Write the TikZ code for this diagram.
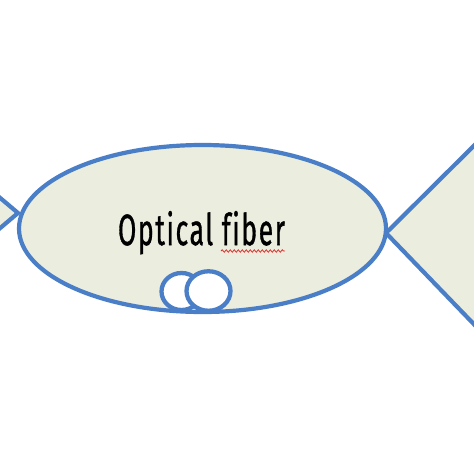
\documentclass[tikz,border=0pt]{standalone}
\usepackage{fontspec}
\setmainfont{Fira Sans}
\newfontfamily\fishlabelfont[FakeBold=1.2,LetterSpace=6,Ligatures=NoCommon]{Fira Sans}
\usetikzlibrary{decorations.pathmorphing,shapes.geometric}
\definecolor{fishblue}{HTML}{4A7FC8}
\definecolor{fishfill}{HTML}{EBEEDE}
\definecolor{squig}{HTML}{E03030}
\tikzset{
  outline/.style={draw=fishblue, line width=4.2pt, fill=fishfill, line join=miter},
  loopring/.style={draw=fishblue, line width=4.3pt, fill=white, ellipse, inner sep=0pt},
  label/.style={inner sep=0pt, anchor=base, text=black},
}
\begin{document}
\begin{tikzpicture}[x=1pt,y=-1pt]
\useasboundingbox (0,0) rectangle (474,474);
\clip (0,0) rectangle (474,474);
% tails
\coordinate (lv) at (18,213);
\coordinate (rv) at (386,233);
\path[outline] (-40,164) -- (lv) -- (-40,262) -- cycle;
\path[outline] (rv) -- (520,100) -- (520,372) -- cycle;
% body
\node[outline, ellipse, minimum width=367pt, minimum height=167pt, inner sep=0pt] (body) at (202.5,228.5) {};
% loops
\node[loopring, minimum width=40pt, minimum height=37pt] (loopa) at (181.5,291.5) {};
\node[loopring, minimum width=44pt, minimum height=39.5pt] (loopb) at (208.5,291) {};
% label
\node[label] (txt) at (201.5,245) {\resizebox{167pt}{34pt}{\fontsize{48}{50}\fishlabelfont Optical fiber}};
\coordinate (sqa) at (221,251);
\coordinate (sqb) at (285,251);
\draw[squig, line width=0.8pt, decorate, decoration={snake, segment length=4pt, amplitude=1.2pt}] (sqa) -- (sqb);
\end{tikzpicture}
\end{document}
